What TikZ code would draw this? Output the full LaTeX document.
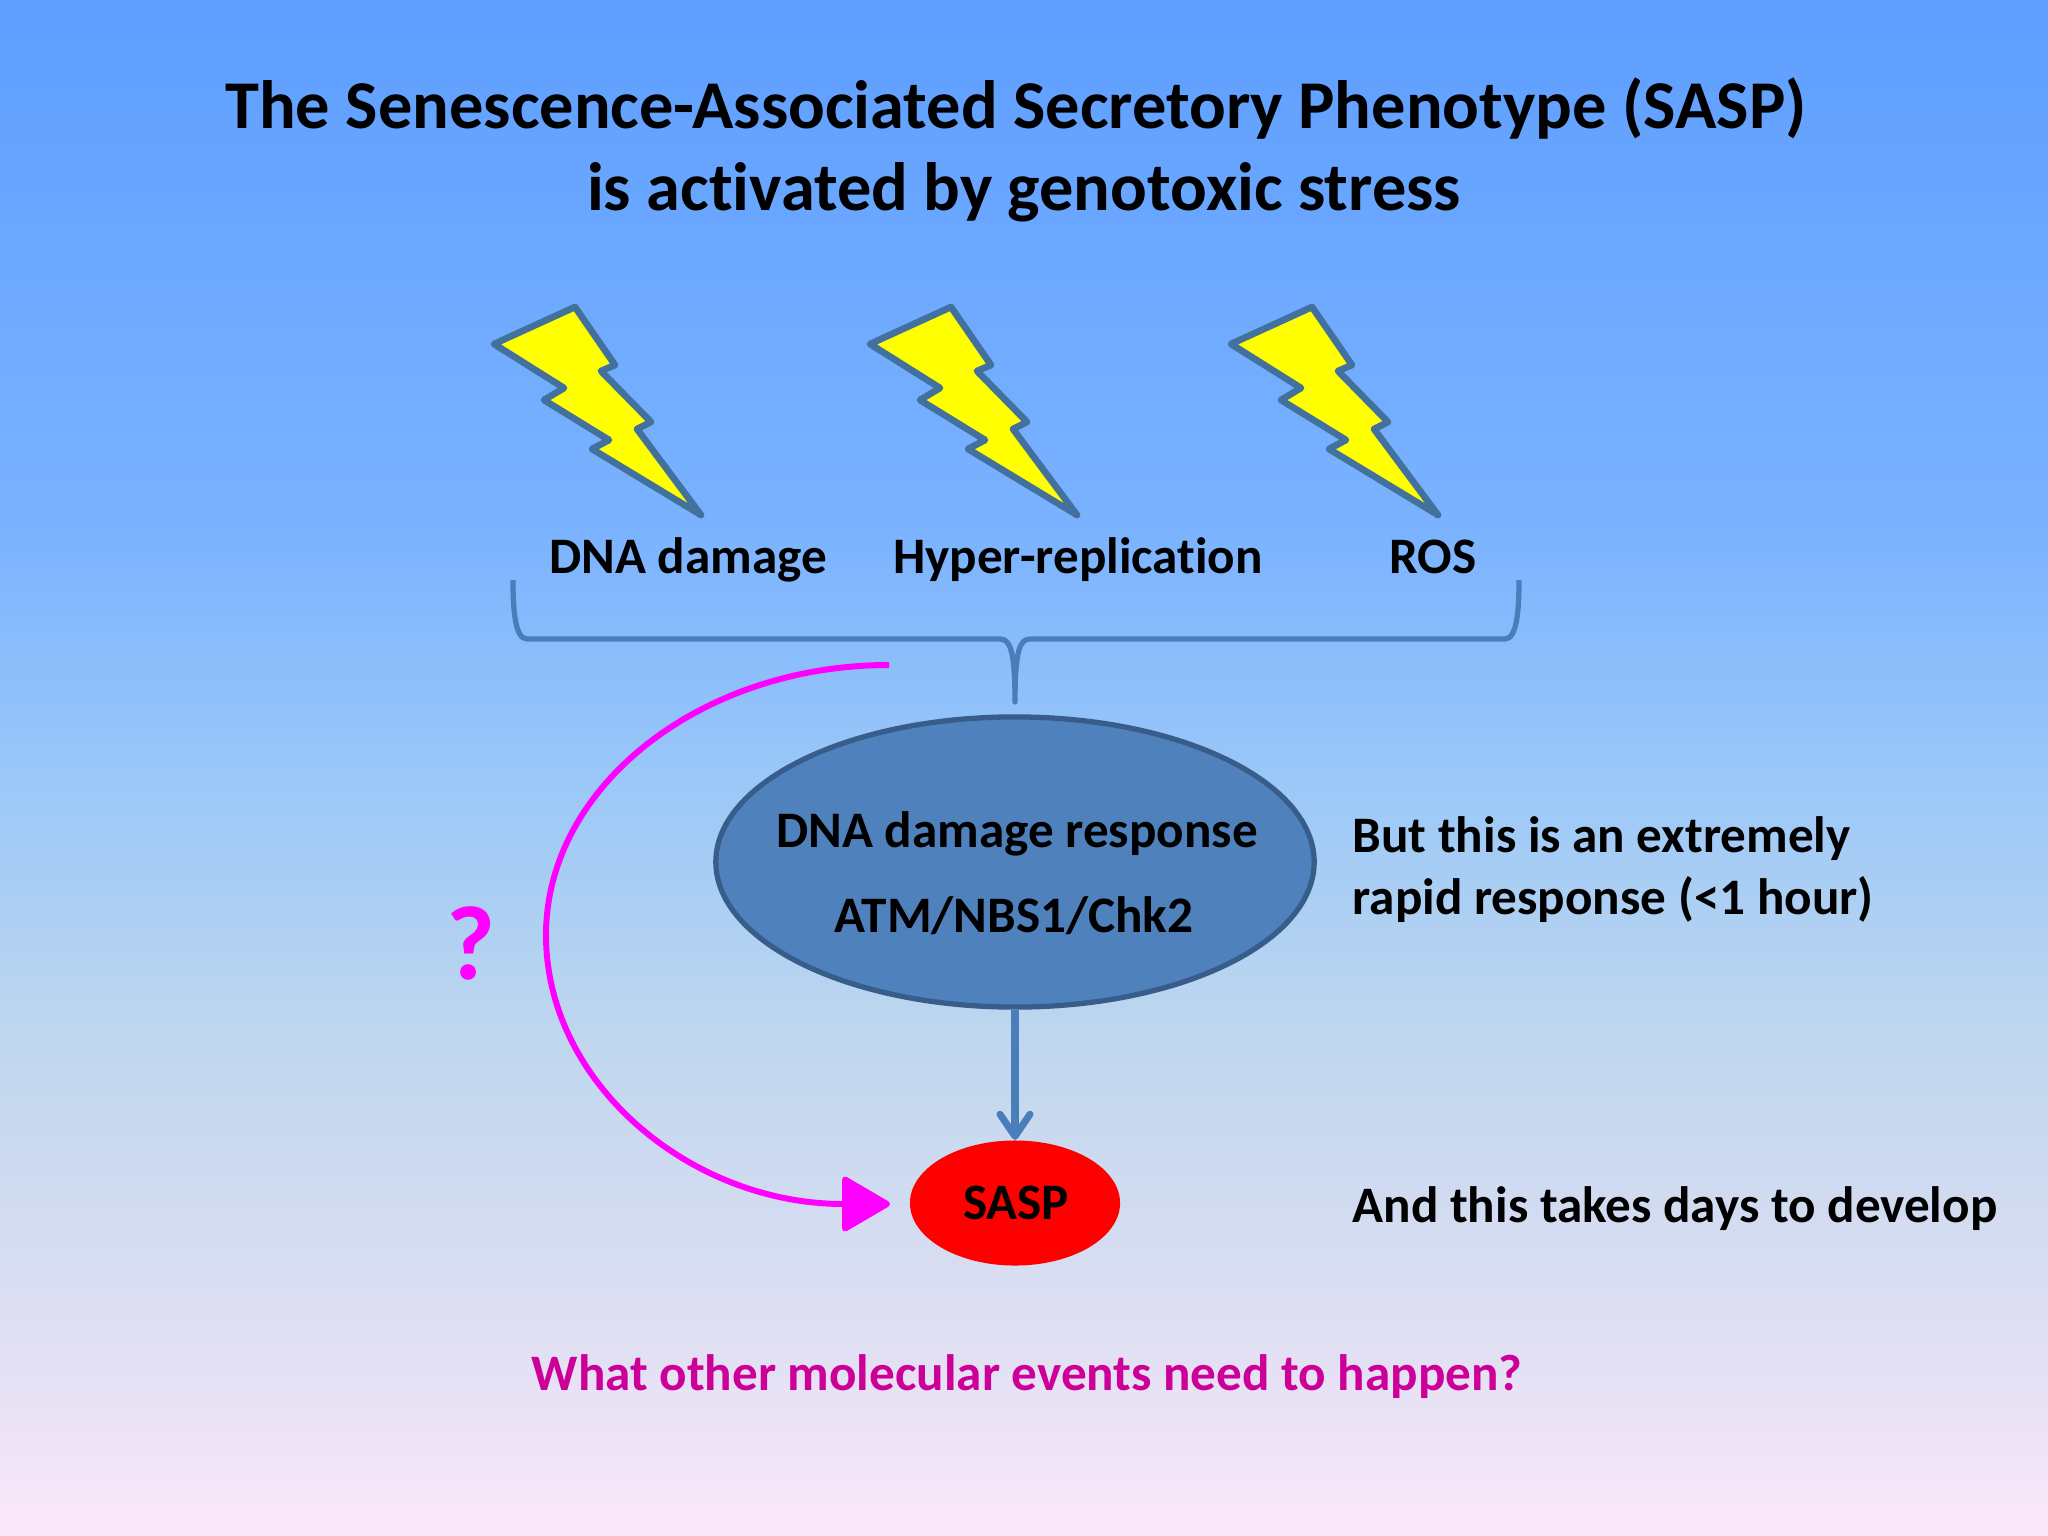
\documentclass[tikz,border=0pt]{standalone}
\usepackage{fontspec}
\setmainfont{Carlito}[BoldFont = Carlito Bold, Ligatures = NoCommon]
\usetikzlibrary{arrows.meta, positioning, shapes.geometric}

\definecolor{boltline}{HTML}{41719C}
\definecolor{boltfill}{HTML}{FFFF00}
\definecolor{bracket}{HTML}{4A7EBB}
\definecolor{ddrfill}{HTML}{4F81BD}
\definecolor{ddrline}{HTML}{385D8A}
\definecolor{saspfill}{HTML}{FF0000}
\definecolor{question}{HTML}{CC0099}
\definecolor{curveline}{HTML}{FF00FF}
\definecolor{bgA}{RGB}{251,232,250}
\definecolor{bgB}{RGB}{220,222,242}
\definecolor{bgC}{RGB}{192,215,238}
\definecolor{bgD}{RGB}{155,200,248}
\definecolor{bgE}{RGB}{122,178,255}
\definecolor{bgF}{RGB}{94,158,255}

\pgfdeclareverticalshading{slidebg}{100bp}{color(0bp)=(bgA); color(25bp)=(bgA); color(32.5bp)=(bgB); color(41bp)=(bgC); color(49.5bp)=(bgD); color(58bp)=(bgE); color(75bp)=(bgF); color(100bp)=(bgF)}

\tikzset{
    x = 0.01cm, y = -0.01cm,
    slidetext/.style = {font = \bfseries\fontsize{14.55}{17}\selectfont, inner sep = 0pt},
    side/.style = {slidetext, anchor = west},
    lightning/.pic = {
        \draw [draw = boltline, fill = boltfill, line width = 1.9pt, line join = round]
            (0, 0) -- (40, 58) -- (26, 64) -- (76, 115) -- (62, 122) -- (126, 208)
            -- (17, 142) -- (34, 133) -- (-31, 93) -- (-11, 81) -- (-81, 37) -- cycle ;
    }
}

\begin{document}
\begin{tikzpicture}
        \shade [shading = slidebg] (0, 0) rectangle (2048, 1536) ;
        \useasboundingbox (0, 0) rectangle (2048, 1536) ;

        \node [font = \bfseries\fontsize{19.45}{22}\selectfont, inner sep = 0pt] (title1) at (1016, 108) {The Senescence-Associated Secretory Phenotype (SASP)} ;
        \node [font = \bfseries\fontsize{19.45}{22}\selectfont, inner sep = 0pt] (title2) at (1024, 192) {is activated by genotoxic stress} ;

        \pic at (575, 307) {lightning} ;
        \pic at (951, 307) {lightning} ;
        \pic at (1312, 307) {lightning} ;

        \node [slidetext, anchor = base] (damage) at (688, 573) {DNA damage} ;
        \node [slidetext, anchor = base] (hyper) at (1078, 573) {Hyper-replication} ;
        \node [slidetext, anchor = base] (ros) at (1433, 573) {ROS} ;

        \draw [draw = bracket, line width = 1.5pt, line join = round]
            (513, 580) .. controls (513, 610) and (515, 639) .. (527, 639) -- (1000, 639)
            .. controls (1010, 639) and (1015, 650) .. (1015, 702)
            .. controls (1015, 650) and (1020, 639) .. (1030, 639) -- (1505, 639)
            .. controls (1517, 639) and (1519, 610) .. (1519, 580) ;

        \node [ellipse, draw = ddrline, fill = ddrfill, line width = 1.5pt, minimum width = 5.98cm, minimum height = 2.9cm] (ddr) at (1015, 862) {} ;
        \node [slidetext] (ddrname) at (1017, 834) {DNA damage response} ;
        \node [slidetext] (ddrgenes) at (1014, 916) {ATM/NBS1/Chk2} ;

        \node [ellipse, fill = saspfill, minimum width = 2.1cm, minimum height = 1.25cm, inner sep = 0pt] (sasp) at (1015, 1203) {} ;
        \node [slidetext] (saspname) at (1016, 1203) {SASP} ;

        \draw [draw = bracket, line width = 2pt, -{Straight Barb[length = 2.2mm, width = 3mm, round]}] (ddr) -- (sasp) ;

        \coordinate (curvestart) at (889, 665) ;
        \coordinate (curveleft) at (546, 935) ;
        \coordinate (curveend) at (890, 1204) ;
        \draw [draw = curveline, line width = 1.7pt, -{Triangle[length = 5.1mm, width = 5.8mm, round]}]
            (curvestart) .. controls (700, 665) and (546, 787) .. (curveleft)
            .. controls (546, 1083) and (690, 1204) .. (curveend) ;

        \node [font = \bfseries\fontsize{30}{36}\selectfont, text = curveline, inner sep = 0pt] (unknown) at (471, 943) {?} ;

        \node [side] (rapid1) at (1352, 839) {But this is an extremely} ;
        \node [side] (rapid2) at (1352, 900) {rapid response (<1 hour)} ;
        \node [side] (slow) at (1352, 1209) {And this takes days to develop} ;

        \node [slidetext, text = question] (other) at (1027, 1377) {What other molecular events need to happen?} ;
    \end{tikzpicture}
\end{document}
